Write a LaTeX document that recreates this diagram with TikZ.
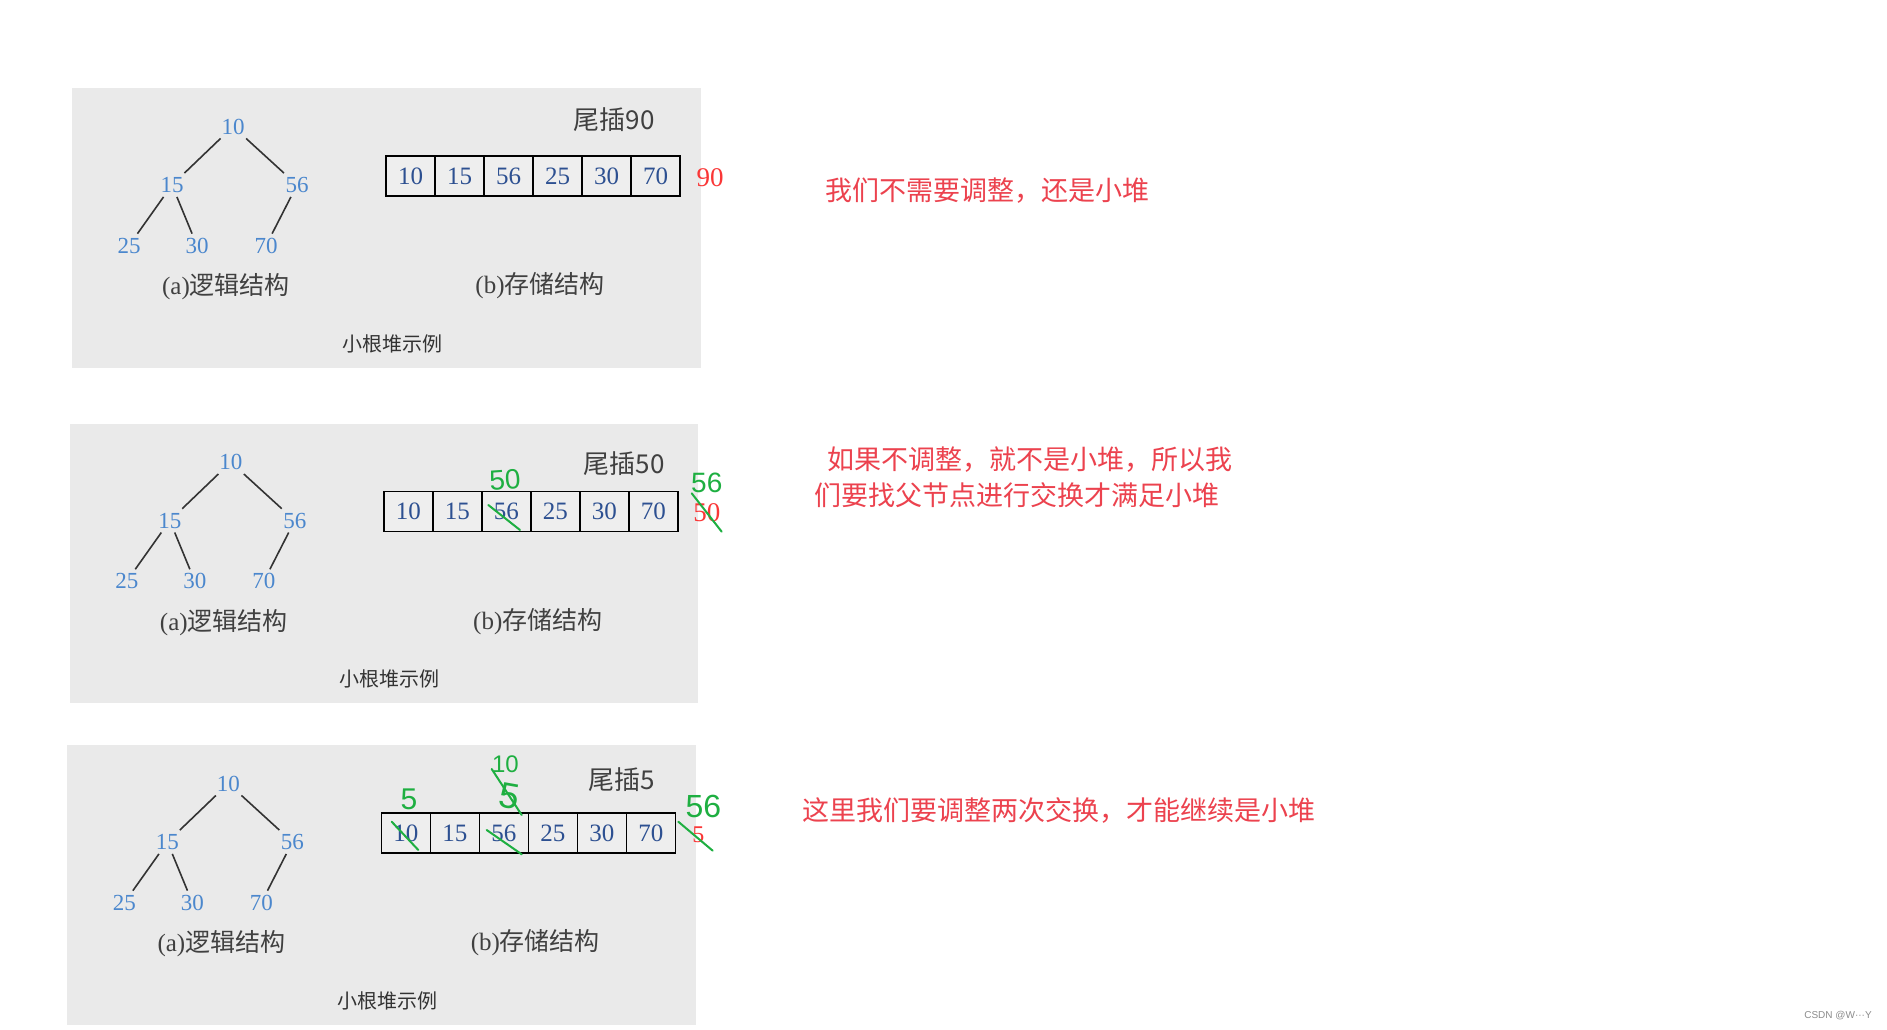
\documentclass[tikz,border=0pt]{standalone}
\usepackage{fontspec}
\setmainfont{Liberation Serif}
\newfontfamily\cjk{Noto Sans CJK SC}
\newfontfamily\hand{Liberation Sans}

\definecolor{panelgray}{RGB}{234,234,234}
\definecolor{cellgray}{RGB}{238,238,238}
\definecolor{treeblue}{RGB}{75,135,205}
\definecolor{cellblue}{RGB}{45,80,145}
\definecolor{notered}{RGB}{236,66,78}
\definecolor{numred}{RGB}{250,55,55}
\definecolor{pengreen}{RGB}{30,175,65}

\tikzset{
  panel/.style={fill=panelgray},
  treenum/.style={text=treeblue, inner sep=4, font=\fontsize{23}{25}\selectfont},
  edge/.style={draw=black!80, line width=1.6},
  cell/.style={draw=black, line width=1.6, fill=cellgray, minimum width=49,
    minimum height=40, inner sep=0, text=cellblue, font=\fontsize{25}{27}\selectfont},
  caption/.style={text=black!75, font=\fontsize{25}{27}\selectfont},
  example/.style={text=black!80, font=\cjk\fontsize{20}{22}\selectfont},
  insert/.style={anchor=west, text=black!75, font=\cjk\fontsize{26}{28}\selectfont},
  newval/.style={text=numred, inner sep=0, font=\fontsize{27}{29}\selectfont},
  note/.style={anchor=west, text=notered, font=\cjk\fontsize{27}{30}\selectfont},
  pen/.style={text=pengreen, inner sep=0, font=\hand\fontsize{#1}{#1}\selectfont},
  pen/.default=30,
  strike/.style={draw=pengreen, line width=2, line cap=round}
}

% one sample min-heap: tree + array
\newcommand{\minheap}{%
  \fill[panel] (0,0) rectangle (628.5,279.5);
  % logical structure
  \node[treenum] (n10) at (161,38.5) {10};
  \node[treenum] (n15) at (100,97) {15};
  \node[treenum] (n56) at (225,97) {56};
  \node[treenum] (n25) at (57,157.6) {25};
  \node[treenum] (n30) at (125,157.6) {30};
  \node[treenum] (n70) at (194,157.6) {70};
  \draw[edge] (n10) -- (n15);
  \draw[edge] (n10) -- (n56);
  \draw[edge] (n15) -- (n25);
  \draw[edge] (n15) -- (n30);
  \draw[edge] (n56) -- (n70);
  \node[caption] (capa) at (154,199) {(a){\cjk 逻辑结构}};
  % storage structure
  \foreach \v [count=\i] in {10,15,56,25,30,70}
    \node[cell] (c\i) at ({289.5+49*\i},88) {\v};
  \node[caption] (capb) at (468,198) {(b){\cjk 存储结构}};
  \node[example] (tag) at (320,255.5) {小根堆示例};
}

\begin{document}
\begin{tikzpicture}[x=1pt, y=-1pt]
  \useasboundingbox (0,0) rectangle (1887,1030);
  \fill[white] (0,0) rectangle (1887,1030);

  % insert 90
  \begin{scope}[shift={(72,88)}, name prefix=p1-]
    \minheap
    \node[insert] (ins) at (498.3,31.3) {尾插90};
    \node[newval] (val) at (638,90) {90};
  \end{scope}
  \node[note] (note1) at (822.4,191) {我们不需要调整，还是小堆};

  % insert 50
  \begin{scope}[shift={(69.8,423.6)}, name prefix=p2-]
    \minheap
    \node[insert] (ins) at (510.4,39.7) {尾插50};
    \node[newval] (val) at (637,89) {50};
    \node[pen=28, rotate=4] (up) at (435.2,56.4) {50};
    \node[pen=28] (old) at (637,59) {56};
    \draw[strike] (418.5,81.4) -- (450.2,106.4);
    \draw[strike] (621.9,69.7) -- (651.9,108.1);
  \end{scope}
  \node[note] (note2a) at (824.2,460) {如果不调整，就不是小堆，所以我};
  \node[note] (note2b) at (811.4,495) {们要找父节点进行交换才满足小堆};

  % insert 5
  \begin{scope}[shift={(67.4,745)}, name prefix=p3-]
    \minheap
    \node[insert] (ins) at (517.2,35) {尾插5};
    \node[newval, font=\fontsize{24}{26}\selectfont] (val) at (631,90) {5};
    \node[pen=30] (top) at (341.6,54.3) {5};
    \node[pen=24] (mid2) at (438,19) {10};
    \node[pen=36, rotate=-10] (mid1) at (442,51) {5};
    \node[pen=32] (old) at (636,61) {56};
    \draw[strike] (324.3,76.7) -- (350.9,105);
    \draw[strike] (424.3,24) -- (454.3,70);
    \draw[strike] (419.3,85) -- (454.3,109.3);
    \draw[strike] (610.9,76.7) -- (645.3,105.7);
  \end{scope}
  \node[note] (note3) at (799.4,810) {这里我们要调整两次交换，才能继续是小堆};

  \node[text=black!45, font=\hand\fontsize{10}{12}\selectfont] (mark) at (1838,1016) {CSDN @W···Y};
\end{tikzpicture}
\end{document}
